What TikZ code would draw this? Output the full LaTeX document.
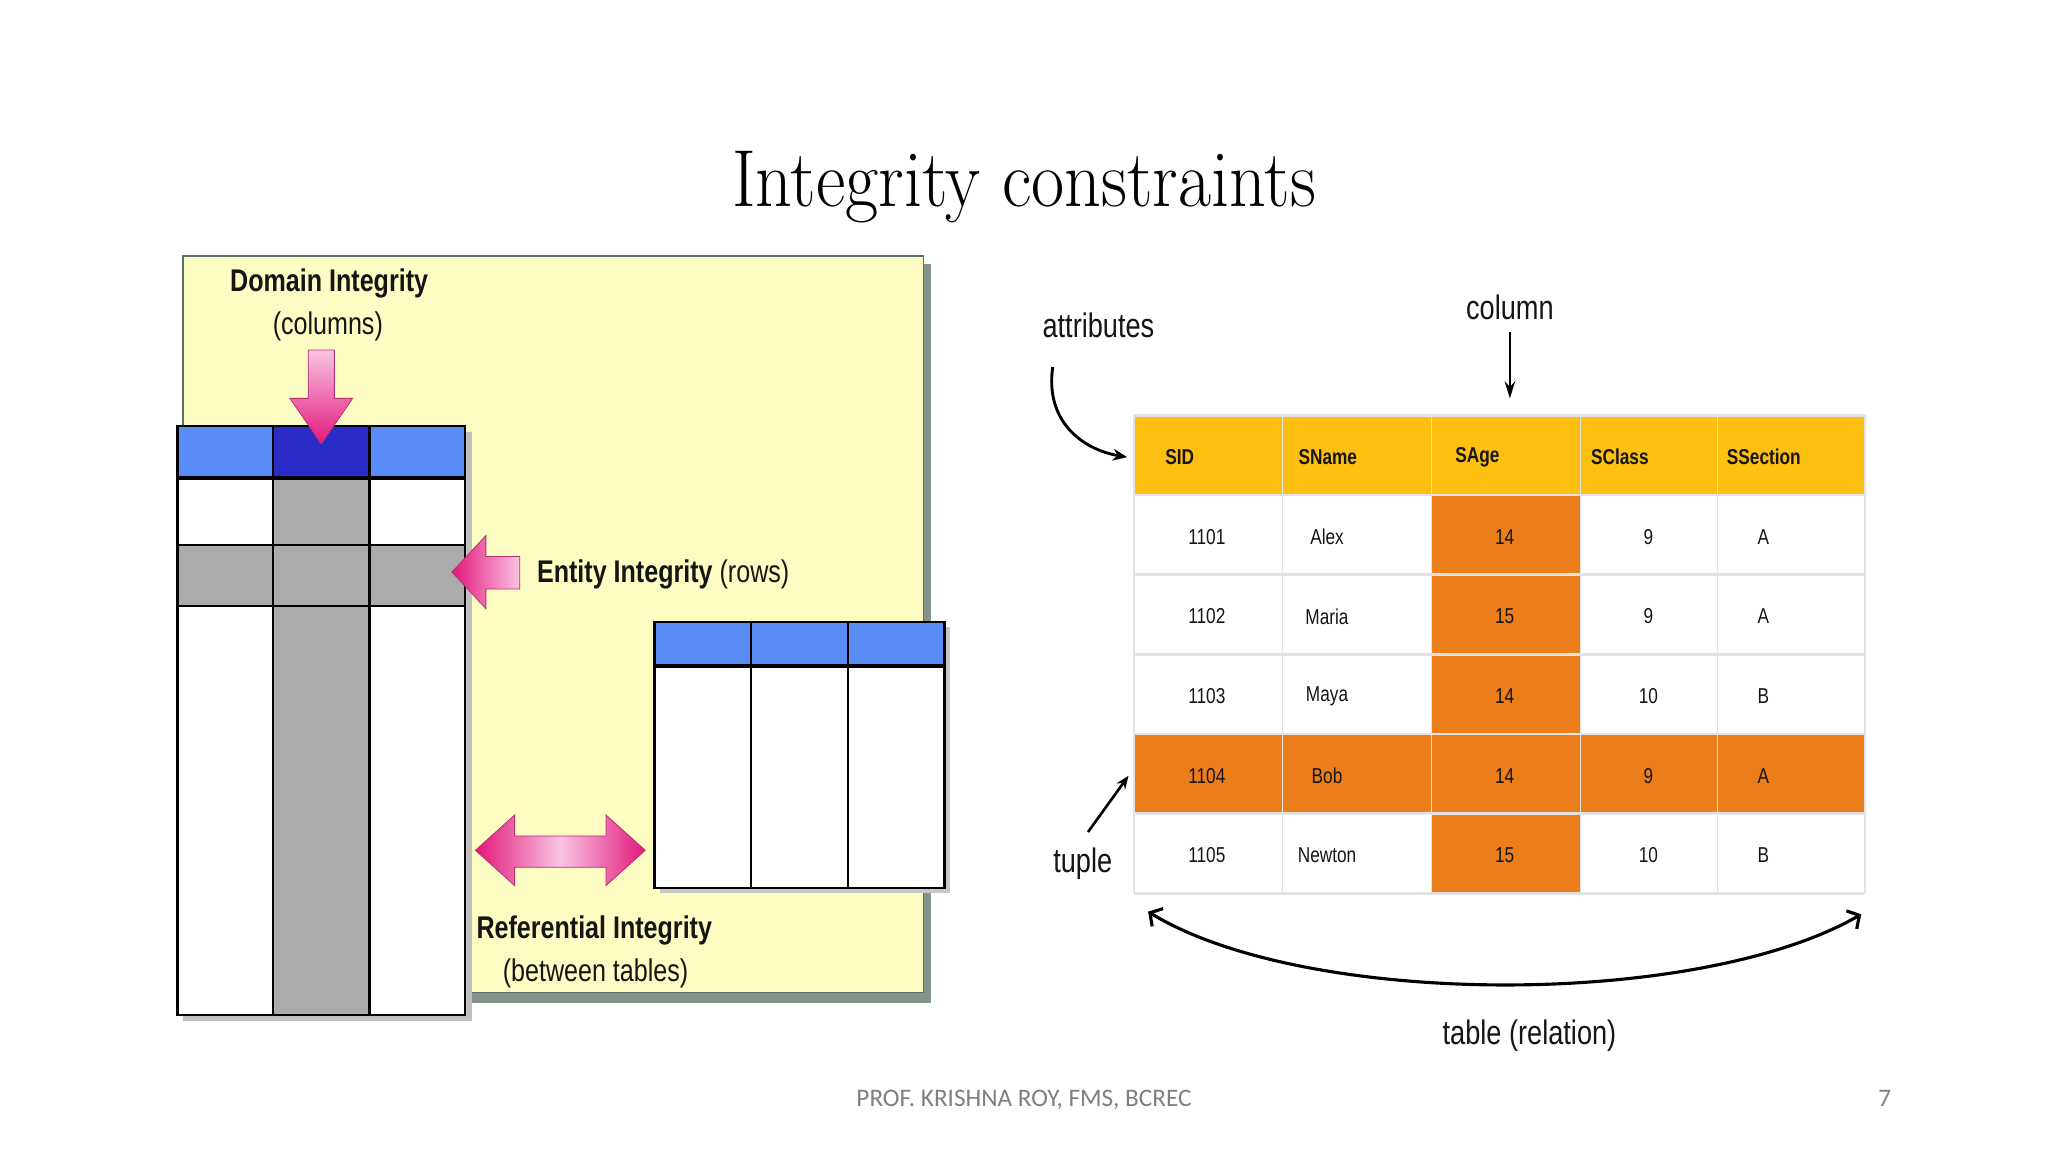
\documentclass[tikz,border=0pt]{standalone}
\usepackage{fontspec}
\newfontfamily\nar[FakeStretch=0.8]{Liberation Sans}
\newfontfamily\footfont{Carlito}
\usetikzlibrary{arrows.meta}
\definecolor{ybg}{HTML}{FDFDC3}
\definecolor{boxedge}{HTML}{5C7268}
\definecolor{boxshadow}{HTML}{849489}
\definecolor{bhead}{HTML}{5B8BF5}
\definecolor{dbhead}{HTML}{2B2BC8}
\definecolor{gcell}{HTML}{ABABAB}
\definecolor{pinkdeep}{HTML}{E3177C}
\definecolor{pinklight}{HTML}{F9C4E1}
\definecolor{pinkedge}{HTML}{B8306A}
\definecolor{gold}{HTML}{FDC010}
\definecolor{orng}{HTML}{EB7D1B}
\definecolor{gridc}{HTML}{E3E3E3}
\definecolor{txt}{HTML}{151515}
\definecolor{foot}{HTML}{7F7F7F}
\tikzset{
  lab/.style={text=txt, inner sep=0pt, font=\nar\fontsize{24}{26}\selectfont},
  rlab/.style={text=txt, inner sep=0pt, font=\nar\fontsize{26}{28}\selectfont},
  hdr/.style={text=txt, inner sep=0pt, anchor=west, font=\nar\bfseries\fontsize{16.5}{18}\selectfont},
  dat/.style={text=txt, inner sep=0pt, font=\nar\fontsize{16.5}{18}\selectfont},
  pinkarrow/.style={draw=pinkedge, line width=0.6pt},
  tline/.style={black, line width=1.8pt},
  arr/.style={line width=2.2pt, -{Stealth[length=11pt,width=9pt]}},
}
\begin{document}
\begin{tikzpicture}[x=1pt,y=-1pt]
\useasboundingbox[fill=white] (0,0) rectangle (1568,882);

% title and footer
\node[anchor=base, inner sep=0pt, font=\fontsize{62}{64}\selectfont] (title) at (784,158) {\scalebox{0.89}[1]{Integrity constraints}};
\node[anchor=base, inner sep=0pt, text=foot, font=\footfont\fontsize{19.3}{21}\selectfont] (footer) at (784,847) {PROF. KRISHNA ROY, FMS, BCREC};
\node[anchor=base, inner sep=0pt, text=foot, font=\footfont\fontsize{19.3}{21}\selectfont] (pageno) at (1443,847) {7};

% ---------- left figure ----------
\fill[boxshadow] (146,202) rectangle (713,768);
\filldraw[fill=ybg, draw=boxedge, line width=1pt] (140,196) rectangle (707,760);

% left table
\fill[black!25] (140,331) rectangle (361,782);
\fill[white] (136,326) rectangle (356,777);
\fill[gcell] (209,366) rectangle (283,777);
\fill[gcell] (136,417) rectangle (356,464);
\fill[bhead] (136,326) rectangle (356,366);
\fill[dbhead] (209,326) rectangle (283,366);
\draw[tline] (136,326) rectangle (356,777);
\draw[tline] (209,326) -- (209,777);
\draw[tline] (283,326) -- (283,777);
\draw[black, line width=1.5pt] (136,417) -- (356,417);
\draw[black, line width=1.5pt] (136,464) -- (356,464);
\draw[black, line width=3.5pt] (136,366) -- (356,366);

% right small table
\fill[black!22] (505,480) rectangle (727,684);
\fill[white] (501,476) rectangle (723,680);
\fill[bhead] (501,476) rectangle (723,510);
\draw[tline] (501,476) rectangle (723,680);
\draw[tline] (575,476) -- (575,680);
\draw[tline] (649,476) -- (649,680);
\draw[black, line width=3.5pt] (501,510) -- (723,510);

% pink arrows
\shadedraw[pinkarrow, top color=pinklight, bottom color=pinkdeep]
  (236,268) -- (256,268) -- (256,305) -- (270,305) -- (246,340) -- (222,305) -- (236,305) -- cycle;
\shadedraw[pinkarrow, left color=pinkdeep, right color=pinklight]
  (346,438) -- (372,410) -- (372,426) -- (398,426) -- (398,451) -- (372,451) -- (372,466) -- cycle;
\shadedraw[pinkarrow, left color=pinkdeep, right color=pinkdeep, middle color=pinklight]
  (364,651) -- (394,624) -- (394,640) -- (464,640) -- (464,624) -- (494,651) -- (464,678) -- (464,664) -- (394,664) -- (394,678) -- cycle;

% left labels
\node[lab, font=\nar\bfseries\fontsize{24}{26}\selectfont] (dom) at (252,217) {Domain Integrity};
\node[lab] (domsub) at (251,250) {(columns)};
\node[lab, anchor=west] (ent) at (411,440) {\bfseries Entity Integrity \mdseries(rows)};
\node[lab, font=\nar\bfseries\fontsize{24}{26}\selectfont] (ref) at (455,712) {Referential Integrity};
\node[lab] (refsub) at (456,745) {(between tables)};

% ---------- right figure ----------
\fill[white] (868,318) rectangle (1428,684);
\fill[gold] (868,318) rectangle (1428,379);
\fill[orng] (1096,379) rectangle (1210,684);
\fill[orng] (868,562) rectangle (1428,623);
\foreach \yy in {318,379,440,501,562,623,684}
  \draw[gridc, line width=2pt] (868,\yy) -- (1428,\yy);
\foreach \xx in {868,982,1096,1210,1315,1428}
  \draw[gridc, line width=1.2pt] (\xx,318) -- (\xx,684);

\foreach \t/\xx [count=\i] in {SID/892,SName/994,SAge/1114,SClass/1218,SSection/1322}
  \node[hdr] (h\i) at (\xx,350) {\t};

\foreach \a/\b/\c/\d/\e [count=\r] in {1101/Alex/14/9/A,1102/Maria/15/9/A,1103/Maya/14/10/B,1104/Bob/14/9/A,1105/Newton/15/10/B} {
  \pgfmathsetmacro\yy{411+61*(\r-1)}
  \node[dat] (c\r a) at (924,\yy) {\a};
  \node[dat] (c\r b) at (1016,\yy) {\b};
  \node[dat] (c\r c) at (1152,\yy) {\c};
  \node[dat] (c\r d) at (1262,\yy) {\d};
  \node[dat] (c\r e) at (1350,\yy) {\e};
}

% right labels
\node[rlab] (attr) at (841,249) {attributes};
\node[rlab] (column) at (1156,235) {column};
\node[rlab] (tuple) at (829,661) {tuple};
\node[rlab] (table) at (1171,793) {table (relation)};

% arrows
\coordinate (attrS) at (806,281);
\coordinate (attrE) at (863,350);
\draw[arr] (attrS) .. controls (800,322) and (828,344) .. (attrE);
\coordinate (colS) at (1156,254);
\coordinate (colE) at (1156,305);
\draw[line width=2pt, -{Stealth[length=13pt,width=8pt]}] (colS) -- (colE);
\coordinate (tupS) at (833,637);
\coordinate (tupE) at (864,594);
\draw[line width=2pt, -{Stealth[length=10pt,width=8pt]}] (tupS) -- (tupE);
\coordinate (tabL) at (879,698);
\coordinate (tabR) at (1425,700);
\draw[line width=2.4pt, {Straight Barb[length=7pt,width=16pt]}-{Straight Barb[length=7pt,width=16pt]}]
  (tabL) .. controls (1000,772) and (1300,772) .. (tabR);
\end{tikzpicture}
\end{document}
